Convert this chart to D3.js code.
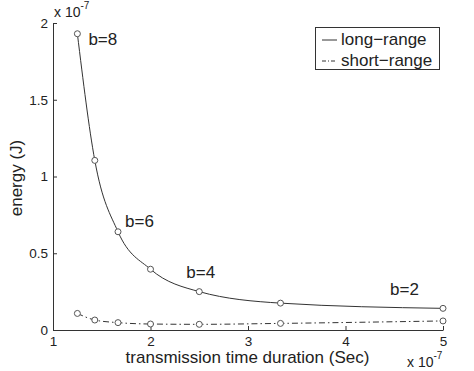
<!DOCTYPE html>
<html><head><meta charset="utf-8">
<script src="https://cdn.jsdelivr.net/npm/d3@7"></script>
<style>
body{margin:0;background:#fff;}
text{font-family:Arial,"Liberation Sans",Helvetica,sans-serif;fill:#222;}
</style></head>
<body><svg id="c" width="474" height="371"></svg>
<script>
// Data (x in units of 1e-7 s, y in units of 1e-7 J)
const bits = [8, 7, 6, 5, 4, 3, 2];
const durations = [1.25, 1.4286, 1.6667, 2.0, 2.5, 3.3333, 5.0];
const longRange = [1.93, 1.105, 0.64, 0.396, 0.25, 0.175, 0.141];
const shortRange = [0.108, 0.065, 0.048, 0.039, 0.037, 0.043, 0.059];
const xTicks = [1, 2, 3, 4, 5];
const yTicks = [0, 0.5, 1, 1.5, 2];
const labelBits = [8, 6, 4, 2];
const labelText = ["b=8", "b=6", "b=4", "b=2"];

const svg = d3.select("#c");
const x = d3.scaleLinear().domain([1, 5]).range([53, 443]);
const y = d3.scaleLinear().domain([0, 2]).range([330, 23]);
const ink = "#333";

// axes
const xAxis = d3.axisBottom(x).tickValues(xTicks).tickSizeInner(-4).tickSizeOuter(0).tickPadding(6).tickFormat(d3.format("d"));
const yAxis = d3.axisLeft(y).tickValues(yTicks).tickSizeInner(-4).tickSizeOuter(0).tickPadding(5).tickFormat(d => d === 0 ? "0" : String(d));
const gx = svg.append("g").attr("transform", "translate(0,330)").call(xAxis);
const gy = svg.append("g").attr("transform", "translate(53,0)").call(yAxis);
[gx, gy].forEach(g => {
  g.selectAll("path,line").attr("stroke", ink).attr("stroke-width", 1);
  g.selectAll("text").attr("font-size", 13.5).style("fill", "#222").attr("font-family", "Arial, Liberation Sans, sans-serif");
});

// exponent labels
const e1 = svg.append("text").attr("x", 54).attr("y", 17).attr("font-size", 14);
e1.append("tspan").text("x 10");
e1.append("tspan").attr("dy", -8).attr("font-size", 10).text("-7");
const e2 = svg.append("text").attr("x", 407).attr("y", 367).attr("font-size", 14);
e2.append("tspan").text("x 10");
e2.append("tspan").attr("dy", -8).attr("font-size", 10).text("-7");

// axis titles
svg.append("text").attr("x", 247.5).attr("y", 363).attr("text-anchor", "middle").attr("font-size", 17)
  .text("transmission time duration (Sec)");
svg.append("text").attr("transform", "translate(22,178) rotate(-90)").attr("text-anchor", "middle").attr("font-size", 17)
  .text("energy (J)");

// lines
const line = d3.line().x(d => x(d[0])).y(d => y(d[1])).curve(d3.curveMonotoneX);
const longPts = durations.map((d, i) => [d, longRange[i]]);
const shortPts = durations.map((d, i) => [d, shortRange[i]]);
svg.append("path").attr("d", line(longPts)).attr("fill", "none").attr("stroke", ink).attr("stroke-width", 1);
svg.append("path").attr("d", line(shortPts)).attr("fill", "none").attr("stroke", ink).attr("stroke-width", 1)
  .attr("stroke-dasharray", "6,3,1.5,3");

// markers
[longPts, shortPts].forEach(pts => {
  svg.append("g").selectAll("circle").data(pts).join("circle")
    .attr("cx", d => x(d[0])).attr("cy", d => y(d[1])).attr("r", 3)
    .attr("fill", "#fff").attr("stroke", "#555").attr("stroke-width", 1);
});

// b labels
const labelOffsets = [[11, 11], [7, -5], [-13, -13.5], [-53, -13]];
labelBits.forEach((b, i) => {
  const k = bits.indexOf(b);
  svg.append("text").attr("x", x(durations[k]) + labelOffsets[i][0]).attr("y", y(longRange[k]) + labelOffsets[i][1])
    .attr("font-size", 17).text(labelText[i]);
});

// legend
const lg = svg.append("g");
lg.append("rect").attr("x", 315.5).attr("y", 27.5).attr("width", 124).attr("height", 42)
  .attr("fill", "#fff").attr("stroke", ink).attr("stroke-width", 1);
lg.append("line").attr("x1", 322).attr("x2", 337).attr("y1", 40).attr("y2", 40).attr("stroke", ink);
lg.append("line").attr("x1", 322).attr("x2", 337).attr("y1", 61).attr("y2", 61).attr("stroke", ink).attr("stroke-dasharray", "4,2,1,2");
lg.append("text").attr("x", 341).attr("y", 45).attr("font-size", 17).text("long\u2212range");
lg.append("text").attr("x", 341).attr("y", 66).attr("font-size", 17).text("short\u2212range");
</script></body></html>
